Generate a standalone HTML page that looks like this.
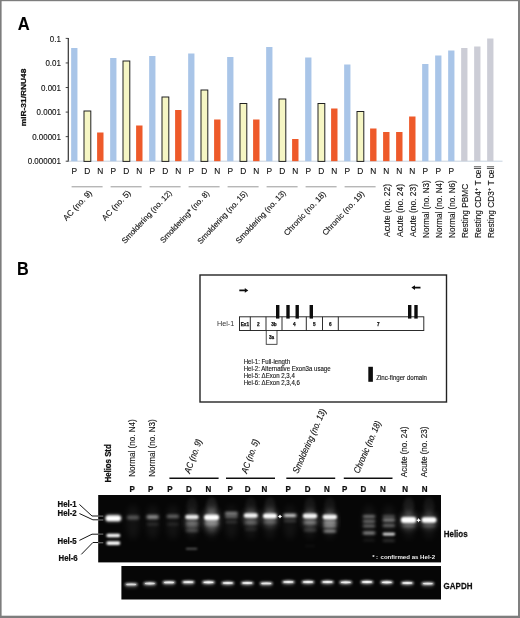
<!DOCTYPE html>
<html lang="en"><head><meta charset="utf-8"><title>Figure</title>
<style>
html,body{margin:0;padding:0;background:#fff;}
body{width:520px;height:618px;overflow:hidden;position:relative;}
svg{position:absolute;left:0;top:0;display:block;}
text{font-family:"Liberation Sans",sans-serif;fill:#111;stroke:#111;stroke-width:0.12px;}
.b{font-weight:bold;stroke:#111;stroke-width:0.25px;}
.i{font-style:italic;}
</style></head><body>
<svg width="520" height="618" viewBox="0 0 520 618">
<defs>
<filter id="bl0" x="-30%" y="-200%" width="160%" height="500%"><feGaussianBlur stdDeviation="0.5"/></filter>
<filter id="bl1" x="-30%" y="-200%" width="160%" height="500%"><feGaussianBlur stdDeviation="0.9"/></filter>
<filter id="bl2" x="-30%" y="-200%" width="160%" height="500%"><feGaussianBlur stdDeviation="1.6"/></filter>
<filter id="bl3" x="-30%" y="-100%" width="160%" height="300%"><feGaussianBlur stdDeviation="3"/></filter>
<filter id="soft" x="-5%" y="-5%" width="110%" height="110%"><feGaussianBlur stdDeviation="0.35"/></filter>
</defs>
<rect x="0" y="0" width="520" height="618" fill="#fff"/>
<g id="panelA" filter="url(#soft)">
<text class="b" transform="translate(17.7,30.1) scale(0.93,1)" font-size="17.8" style="fill:#000;stroke-width:0.1px">A</text>
<line x1="65.7" y1="38.40" x2="68.3" y2="38.40" stroke="#333" stroke-width="0.9"/>
<text transform="translate(60.9,41.60) scale(0.885,1)" font-size="9" text-anchor="end">0.1</text>
<line x1="65.7" y1="62.96" x2="68.3" y2="62.96" stroke="#333" stroke-width="0.9"/>
<text transform="translate(60.9,66.16) scale(0.885,1)" font-size="9" text-anchor="end">0.01</text>
<line x1="65.7" y1="87.52" x2="68.3" y2="87.52" stroke="#333" stroke-width="0.9"/>
<text transform="translate(60.9,90.72) scale(0.885,1)" font-size="9" text-anchor="end">0.001</text>
<line x1="65.7" y1="112.08" x2="68.3" y2="112.08" stroke="#333" stroke-width="0.9"/>
<text transform="translate(60.9,115.28) scale(0.885,1)" font-size="9" text-anchor="end">0.0001</text>
<line x1="65.7" y1="136.64" x2="68.3" y2="136.64" stroke="#333" stroke-width="0.9"/>
<text transform="translate(60.9,139.84) scale(0.885,1)" font-size="9" text-anchor="end">0.00001</text>
<line x1="65.7" y1="161.20" x2="68.3" y2="161.20" stroke="#333" stroke-width="0.9"/>
<text transform="translate(60.9,164.40) scale(0.885,1)" font-size="9" text-anchor="end">0.000001</text>
<line x1="68.3" y1="37.90" x2="68.3" y2="161.70" stroke="#333" stroke-width="1.2"/>
<line x1="68.3" y1="161.20" x2="502.5" y2="161.20" stroke="#b9c6d8" stroke-width="0.8"/>
<text class="b" transform="translate(25.9,126.3) rotate(-90) scale(1.035,1)" font-size="8.1">miR-31/RNU48</text>
<rect x="71.15" y="48.00" width="6.3" height="113.20" fill="#a9c5e8"/>
<text x="74.30" y="173.9" font-size="8.4" text-anchor="middle">P</text>
<rect x="84.00" y="111.00" width="6.8" height="50.40" fill="#f6f6c4" stroke="#222" stroke-width="1"/>
<text x="87.30" y="173.9" font-size="8.4" text-anchor="middle">D</text>
<rect x="97.10" y="132.50" width="6.4" height="28.70" fill="#ee5a2a"/>
<text x="100.30" y="173.9" font-size="8.4" text-anchor="middle">N</text>
<rect x="110.15" y="58.00" width="6.3" height="103.20" fill="#a9c5e8"/>
<text x="113.30" y="173.9" font-size="8.4" text-anchor="middle">P</text>
<rect x="123.00" y="61.00" width="6.8" height="100.40" fill="#f6f6c4" stroke="#222" stroke-width="1"/>
<text x="126.30" y="173.9" font-size="8.4" text-anchor="middle">D</text>
<rect x="136.10" y="125.50" width="6.4" height="35.70" fill="#ee5a2a"/>
<text x="139.30" y="173.9" font-size="8.4" text-anchor="middle">N</text>
<rect x="149.15" y="56.00" width="6.3" height="105.20" fill="#a9c5e8"/>
<text x="152.30" y="173.9" font-size="8.4" text-anchor="middle">P</text>
<rect x="162.00" y="97.00" width="6.8" height="64.40" fill="#f6f6c4" stroke="#222" stroke-width="1"/>
<text x="165.30" y="173.9" font-size="8.4" text-anchor="middle">D</text>
<rect x="175.10" y="110.00" width="6.4" height="51.20" fill="#ee5a2a"/>
<text x="178.30" y="173.9" font-size="8.4" text-anchor="middle">N</text>
<rect x="188.15" y="53.50" width="6.3" height="107.70" fill="#a9c5e8"/>
<text x="191.30" y="173.9" font-size="8.4" text-anchor="middle">P</text>
<rect x="201.00" y="90.00" width="6.8" height="71.40" fill="#f6f6c4" stroke="#222" stroke-width="1"/>
<text x="204.30" y="173.9" font-size="8.4" text-anchor="middle">D</text>
<rect x="214.10" y="119.50" width="6.4" height="41.70" fill="#ee5a2a"/>
<text x="217.30" y="173.9" font-size="8.4" text-anchor="middle">N</text>
<rect x="227.15" y="57.00" width="6.3" height="104.20" fill="#a9c5e8"/>
<text x="230.30" y="173.9" font-size="8.4" text-anchor="middle">P</text>
<rect x="240.00" y="103.50" width="6.8" height="57.90" fill="#f6f6c4" stroke="#222" stroke-width="1"/>
<text x="243.30" y="173.9" font-size="8.4" text-anchor="middle">D</text>
<rect x="253.10" y="119.50" width="6.4" height="41.70" fill="#ee5a2a"/>
<text x="256.30" y="173.9" font-size="8.4" text-anchor="middle">N</text>
<rect x="266.15" y="47.00" width="6.3" height="114.20" fill="#a9c5e8"/>
<text x="269.30" y="173.9" font-size="8.4" text-anchor="middle">P</text>
<rect x="279.00" y="99.00" width="6.8" height="62.40" fill="#f6f6c4" stroke="#222" stroke-width="1"/>
<text x="282.30" y="173.9" font-size="8.4" text-anchor="middle">D</text>
<rect x="292.10" y="139.00" width="6.4" height="22.20" fill="#ee5a2a"/>
<text x="295.30" y="173.9" font-size="8.4" text-anchor="middle">N</text>
<rect x="305.15" y="57.50" width="6.3" height="103.70" fill="#a9c5e8"/>
<text x="308.30" y="173.9" font-size="8.4" text-anchor="middle">P</text>
<rect x="318.00" y="103.50" width="6.8" height="57.90" fill="#f6f6c4" stroke="#222" stroke-width="1"/>
<text x="321.30" y="173.9" font-size="8.4" text-anchor="middle">D</text>
<rect x="331.10" y="108.50" width="6.4" height="52.70" fill="#ee5a2a"/>
<text x="334.30" y="173.9" font-size="8.4" text-anchor="middle">N</text>
<rect x="344.15" y="64.50" width="6.3" height="96.70" fill="#a9c5e8"/>
<text x="347.30" y="173.9" font-size="8.4" text-anchor="middle">P</text>
<rect x="357.00" y="111.50" width="6.8" height="49.90" fill="#f6f6c4" stroke="#222" stroke-width="1"/>
<text x="360.30" y="173.9" font-size="8.4" text-anchor="middle">D</text>
<rect x="370.10" y="128.50" width="6.4" height="32.70" fill="#ee5a2a"/>
<text x="373.30" y="173.9" font-size="8.4" text-anchor="middle">N</text>
<rect x="383.10" y="132.00" width="6.4" height="29.20" fill="#ee5a2a"/>
<text x="386.30" y="173.9" font-size="8.4" text-anchor="middle">N</text>
<rect x="396.10" y="132.00" width="6.4" height="29.20" fill="#ee5a2a"/>
<text x="399.30" y="173.9" font-size="8.4" text-anchor="middle">N</text>
<rect x="409.10" y="116.50" width="6.4" height="44.70" fill="#ee5a2a"/>
<text x="412.30" y="173.9" font-size="8.4" text-anchor="middle">N</text>
<rect x="422.15" y="64.00" width="6.3" height="97.20" fill="#a9c5e8"/>
<text x="425.30" y="173.9" font-size="8.4" text-anchor="middle">P</text>
<rect x="435.15" y="55.50" width="6.3" height="105.70" fill="#a9c5e8"/>
<text x="438.30" y="173.9" font-size="8.4" text-anchor="middle">P</text>
<rect x="448.15" y="50.50" width="6.3" height="110.70" fill="#a9c5e8"/>
<text x="451.30" y="173.9" font-size="8.4" text-anchor="middle">P</text>
<rect x="461.15" y="48.00" width="6.3" height="113.20" fill="#cccdd6"/>
<rect x="474.15" y="46.50" width="6.3" height="114.70" fill="#cccdd6"/>
<rect x="487.15" y="38.50" width="6.3" height="122.70" fill="#cccdd6"/>
<line x1="71.60" y1="186.8" x2="102.60" y2="186.8" stroke="#999" stroke-width="1"/>
<text transform="translate(92.50,193.40) rotate(-47)" font-size="8.35" text-anchor="end">AC (no. 9)</text>
<line x1="110.60" y1="186.8" x2="141.60" y2="186.8" stroke="#999" stroke-width="1"/>
<text transform="translate(131.20,193.40) rotate(-47)" font-size="8.35" text-anchor="end">AC (no. 5)</text>
<line x1="149.60" y1="186.8" x2="180.60" y2="186.8" stroke="#999" stroke-width="1"/>
<text transform="translate(172.20,193.30) rotate(-47)" font-size="7.9" text-anchor="end">Smoldering (no. 12)</text>
<line x1="188.60" y1="186.8" x2="219.60" y2="186.8" stroke="#999" stroke-width="1"/>
<text transform="translate(209.80,193.70) rotate(-47)" font-size="7.9" text-anchor="end">Smoldering* (no. 8)</text>
<line x1="227.60" y1="186.8" x2="258.60" y2="186.8" stroke="#999" stroke-width="1"/>
<text transform="translate(247.90,193.70) rotate(-47)" font-size="7.9" text-anchor="end">Smoldering (no. 15)</text>
<line x1="266.60" y1="186.8" x2="297.60" y2="186.8" stroke="#999" stroke-width="1"/>
<text transform="translate(286.20,193.20) rotate(-47)" font-size="7.9" text-anchor="end">Smoldering (no. 13)</text>
<line x1="305.60" y1="186.8" x2="336.60" y2="186.8" stroke="#999" stroke-width="1"/>
<text transform="translate(326.30,194.30) rotate(-47)" font-size="8.0" text-anchor="end">Chronic (no. 18)</text>
<line x1="344.60" y1="186.8" x2="375.60" y2="186.8" stroke="#999" stroke-width="1"/>
<text transform="translate(364.80,194.00) rotate(-47)" font-size="8.0" text-anchor="end">Chronic (no. 19)</text>
<text transform="translate(390.10,237) rotate(-90) scale(1,1)" font-size="8.45">Acute (no. 22)</text>
<text transform="translate(403.10,237) rotate(-90) scale(1,1)" font-size="8.45">Acute (no. 24)</text>
<text transform="translate(416.10,237) rotate(-90) scale(1,1)" font-size="8.45">Acute (no. 23)</text>
<text transform="translate(429.10,237.9) rotate(-90) scale(0.965,1)" font-size="8.4">Normal (no. N3)</text>
<text transform="translate(442.10,237.9) rotate(-90) scale(0.965,1)" font-size="8.4">Normal (no. N4)</text>
<text transform="translate(455.10,237.9) rotate(-90) scale(0.965,1)" font-size="8.4">Normal (no. N6)</text>
<text transform="translate(468.10,238.1) rotate(-90) scale(0.988,1)" font-size="8.4">Resting PBMC</text>
<text transform="translate(481.10,238.1) rotate(-90) scale(0.988,1)" font-size="8.4">Resting CD4<tspan dy="-3" font-size="6">+</tspan><tspan dy="3"> T cell</tspan></text>
<text transform="translate(494.10,238.1) rotate(-90) scale(0.988,1)" font-size="8.4">Resting CD3<tspan dy="-3" font-size="6">+</tspan><tspan dy="3"> T cell</tspan></text>
</g>
<g id="panelB" filter="url(#soft)">
<text class="b" transform="translate(17.1,274.5) scale(0.9,1)" font-size="18" style="fill:#000;stroke-width:0.1px">B</text>
<rect x="200" y="275" width="246.5" height="127" fill="none" stroke="#222" stroke-width="1.4"/>
<path d="M239.3 289.5 H244.8 V288.1 L248.3 290.4 L244.8 292.7 V291.3 H239.3 Z" fill="#111"/>
<path d="M420.5 286.7 H415 V285.3 L411.4 287.6 L415 289.9 V288.5 H420.5 Z" fill="#111"/>
<rect x="239.5" y="316.8" width="184.3" height="13.7" fill="#fff" stroke="#222" stroke-width="0.95"/>
<line x1="250.3" y1="316.8" x2="250.3" y2="330.5" stroke="#222" stroke-width="0.95"/>
<line x1="266" y1="316.8" x2="266" y2="330.5" stroke="#222" stroke-width="0.95"/>
<line x1="282" y1="316.8" x2="282" y2="330.5" stroke="#222" stroke-width="0.95"/>
<line x1="306.3" y1="316.8" x2="306.3" y2="330.5" stroke="#222" stroke-width="0.95"/>
<line x1="322.5" y1="316.8" x2="322.5" y2="330.5" stroke="#222" stroke-width="0.95"/>
<line x1="338.3" y1="316.8" x2="338.3" y2="330.5" stroke="#222" stroke-width="0.95"/>
<rect x="266.2" y="330.5" width="10.8" height="13.8" fill="#fff" stroke="#222" stroke-width="0.8"/>
<text class="b" x="244.9" y="325.6" font-size="4.6" text-anchor="middle">Ex1</text>
<text class="b" x="258.2" y="325.6" font-size="4.6" text-anchor="middle">2</text>
<text class="b" x="274" y="325.6" font-size="4.6" text-anchor="middle">3b</text>
<text class="b" x="294.2" y="325.6" font-size="4.6" text-anchor="middle">4</text>
<text class="b" x="314.4" y="325.6" font-size="4.6" text-anchor="middle">5</text>
<text class="b" x="330.2" y="325.6" font-size="4.6" text-anchor="middle">6</text>
<text class="b" x="378.3" y="325.6" font-size="4.6" text-anchor="middle">7</text>
<text class="b" x="271.6" y="339.3" font-size="4.6" text-anchor="middle">3a</text>
<rect x="276" y="305" width="3.4" height="13.6" fill="#111"/>
<rect x="286.3" y="305" width="3.4" height="13.6" fill="#111"/>
<rect x="295.5" y="305" width="3.4" height="13.6" fill="#111"/>
<rect x="309.6" y="305" width="3.4" height="13.6" fill="#111"/>
<rect x="408" y="305" width="3.4" height="13.6" fill="#111"/>
<rect x="414.3" y="305" width="3.4" height="13.6" fill="#111"/>
<text transform="translate(217,326.4) scale(0.93,1)" font-size="7.8" style="fill:#333;stroke:none">Hel-1</text>
<text transform="translate(243.7,363.70) scale(0.91,1)" font-size="6.7">Hel-1: Full-length</text>
<text transform="translate(243.7,370.88) scale(0.91,1)" font-size="6.7">Hel-2: Alternative Exon3a usage</text>
<text transform="translate(243.7,378.06) scale(0.91,1)" font-size="6.7">Hel-5: ΔExon 2,3,4</text>
<text transform="translate(243.7,385.24) scale(0.91,1)" font-size="6.7">Hel-6: ΔExon 2,3,4,6</text>
<rect x="368.3" y="366.8" width="4.6" height="15" fill="#111"/>
<text transform="translate(376.2,379.7) scale(0.91,1)" font-size="6.75">Zinc-finger domain</text>
<text class="b" transform="translate(111.2,482.5) rotate(-90) scale(0.87,1)" font-size="9.0">Helios Std</text>
<text transform="translate(135,476.8) rotate(-90) scale(0.88,1)" font-size="9.2">Normal (no. N4)</text>
<text transform="translate(154.8,476.8) rotate(-90) scale(0.88,1)" font-size="9.2">Normal (no. N3)</text>
<text class="b" transform="translate(132.2,491.6) scale(0.9,1)" font-size="8.9" text-anchor="middle" fill="#000">P</text>
<text class="b" transform="translate(150.6,491.6) scale(0.9,1)" font-size="8.9" text-anchor="middle" fill="#000">P</text>
<text class="b" transform="translate(170,491.6) scale(0.9,1)" font-size="8.9" text-anchor="middle" fill="#000">P</text>
<text class="b" transform="translate(189,491.6) scale(0.9,1)" font-size="8.9" text-anchor="middle" fill="#000">D</text>
<text class="b" transform="translate(208.5,491.6) scale(0.9,1)" font-size="8.9" text-anchor="middle" fill="#000">N</text>
<text class="b" transform="translate(230.2,491.6) scale(0.9,1)" font-size="8.9" text-anchor="middle" fill="#000">P</text>
<text class="b" transform="translate(247.7,491.6) scale(0.9,1)" font-size="8.9" text-anchor="middle" fill="#000">D</text>
<text class="b" transform="translate(264.3,491.6) scale(0.9,1)" font-size="8.9" text-anchor="middle" fill="#000">N</text>
<text class="b" transform="translate(288.2,491.6) scale(0.9,1)" font-size="8.9" text-anchor="middle" fill="#000">P</text>
<text class="b" transform="translate(307.6,491.6) scale(0.9,1)" font-size="8.9" text-anchor="middle" fill="#000">D</text>
<text class="b" transform="translate(327,491.6) scale(0.9,1)" font-size="8.9" text-anchor="middle" fill="#000">N</text>
<text class="b" transform="translate(344.6,491.6) scale(0.9,1)" font-size="8.9" text-anchor="middle" fill="#000">P</text>
<text class="b" transform="translate(363.5,491.6) scale(0.9,1)" font-size="8.9" text-anchor="middle" fill="#000">D</text>
<text class="b" transform="translate(383,491.6) scale(0.9,1)" font-size="8.9" text-anchor="middle" fill="#000">N</text>
<text class="b" transform="translate(405.2,491.6) scale(0.9,1)" font-size="8.9" text-anchor="middle" fill="#000">N</text>
<text class="b" transform="translate(424.6,491.6) scale(0.9,1)" font-size="8.9" text-anchor="middle" fill="#000">N</text>
<line x1="169.4" y1="478.3" x2="218.6" y2="478.3" stroke="#111" stroke-width="1.5"/>
<line x1="226" y1="478.3" x2="275" y2="478.3" stroke="#111" stroke-width="1.5"/>
<line x1="286.3" y1="478.3" x2="335.2" y2="478.3" stroke="#111" stroke-width="1.5"/>
<line x1="343.8" y1="478.3" x2="392.5" y2="478.3" stroke="#111" stroke-width="1.5"/>
<text class="i" transform="translate(190,474) rotate(-70) scale(0.84,1)" font-size="9.3">AC (no. 9)</text>
<text class="i" transform="translate(247,474) rotate(-70) scale(0.84,1)" font-size="9.3">AC (no. 5)</text>
<text class="i" transform="translate(298.0,474) rotate(-66) scale(0.85,1)" font-size="9.3">Smoldering (no. 13)</text>
<text class="i" transform="translate(359.0,474) rotate(-66.5) scale(0.84,1)" font-size="9.3">Chronic (no. 18)</text>
<text transform="translate(407,477.2) rotate(-90) scale(0.86,1)" font-size="9.4">Acute (no. 24)</text>
<text transform="translate(426.5,477.2) rotate(-90) scale(0.86,1)" font-size="9.4">Acute (no. 23)</text>
<text class="b" transform="translate(57.5,506.5) scale(0.85,1)" font-size="9.2">Hel-1</text>
<text class="b" transform="translate(57.5,516.2) scale(0.85,1)" font-size="9.2">Hel-2</text>
<text class="b" transform="translate(57.5,544) scale(0.85,1)" font-size="9.2">Hel-5</text>
<text class="b" transform="translate(58.5,560.9) scale(0.85,1)" font-size="9.2">Hel-6</text>
<text class="b" transform="translate(443.7,536.8) scale(0.86,1)" font-size="9.3" fill="#000">Helios</text>
<text class="b" transform="translate(443.6,588.5) scale(0.86,1)" font-size="9.3" fill="#000">GAPDH</text>
</g>
<g id="gels">
<rect x="98.2" y="495" width="342.8" height="67.4" fill="#060606"/>
<rect x="121.4" y="566" width="319.6" height="33.5" fill="#060606"/>
</g>
<g fill="none" stroke="#151515" stroke-width="1">
<path d="M79.4 504.4 L92 516 H98.2"/>
<path d="M79.4 513.5 L92.9 519.8 H98.2"/>
<path d="M79.4 540.4 L92 534.2 H98.2"/>
<path d="M81.3 554.4 L92.9 542.5 H98.2"/>
</g>
<g fill="none" stroke="#999" stroke-width="0.8">
<path d="M98.2 516.1 H103.3"/>
<path d="M98.2 520 H103.3"/>
<path d="M98.2 534.1 H103.3"/>
<path d="M98.2 542.8 H103.3"/>
</g>
<g id="bands">
<rect x="126.5" y="505.00" width="13" height="34" rx="17.0" fill="#fff" opacity="0.05" filter="url(#bl3)"/>
<rect x="146.2" y="505.00" width="13" height="34" rx="17.0" fill="#fff" opacity="0.05" filter="url(#bl3)"/>
<rect x="166.3" y="505.00" width="13" height="34" rx="17.0" fill="#fff" opacity="0.05" filter="url(#bl3)"/>
<rect x="185.5" y="505.00" width="13" height="34" rx="17.0" fill="#fff" opacity="0.05" filter="url(#bl3)"/>
<rect x="205.1" y="505.00" width="13" height="34" rx="17.0" fill="#fff" opacity="0.05" filter="url(#bl3)"/>
<rect x="224.9" y="505.00" width="13" height="34" rx="17.0" fill="#fff" opacity="0.05" filter="url(#bl3)"/>
<rect x="244.3" y="505.00" width="13" height="34" rx="17.0" fill="#fff" opacity="0.05" filter="url(#bl3)"/>
<rect x="263.5" y="505.00" width="13" height="34" rx="17.0" fill="#fff" opacity="0.05" filter="url(#bl3)"/>
<rect x="283.5" y="505.00" width="13" height="34" rx="17.0" fill="#fff" opacity="0.05" filter="url(#bl3)"/>
<rect x="303.5" y="505.00" width="13" height="34" rx="17.0" fill="#fff" opacity="0.05" filter="url(#bl3)"/>
<rect x="323.3" y="505.00" width="13" height="34" rx="17.0" fill="#fff" opacity="0.05" filter="url(#bl3)"/>
<rect x="362.5" y="505.00" width="13" height="34" rx="17.0" fill="#fff" opacity="0.05" filter="url(#bl3)"/>
<rect x="382.3" y="505.00" width="13" height="34" rx="17.0" fill="#fff" opacity="0.05" filter="url(#bl3)"/>
<rect x="402.2" y="505.00" width="13" height="34" rx="17.0" fill="#fff" opacity="0.05" filter="url(#bl3)"/>
<rect x="422.5" y="505.00" width="13" height="34" rx="17.0" fill="#fff" opacity="0.05" filter="url(#bl3)"/>
<rect x="186.5" y="497.00" width="11" height="18" rx="9.0" fill="#fff" opacity="0.05" filter="url(#bl2)"/>
<rect x="206.1" y="497.00" width="11" height="18" rx="9.0" fill="#fff" opacity="0.09" filter="url(#bl2)"/>
<rect x="245.3" y="497.00" width="11" height="18" rx="9.0" fill="#fff" opacity="0.05" filter="url(#bl2)"/>
<rect x="264.5" y="497.00" width="11" height="18" rx="9.0" fill="#fff" opacity="0.07" filter="url(#bl2)"/>
<rect x="304.5" y="497.00" width="11" height="18" rx="9.0" fill="#fff" opacity="0.06" filter="url(#bl2)"/>
<rect x="324.3" y="497.00" width="11" height="18" rx="9.0" fill="#fff" opacity="0.05" filter="url(#bl2)"/>
<rect x="403.2" y="497.00" width="11" height="18" rx="9.0" fill="#fff" opacity="0.07" filter="url(#bl2)"/>
<rect x="423.5" y="497.00" width="11" height="18" rx="9.0" fill="#fff" opacity="0.05" filter="url(#bl2)"/>
<rect x="105.8" y="515.40" width="15" height="5.6" rx="2.8" fill="#fff" opacity="1" filter="url(#bl1)"/>
<rect x="106.3" y="533.70" width="14" height="3.6" rx="1.8" fill="#fff" opacity="1" filter="url(#bl1)"/>
<rect x="106.3" y="541.20" width="14" height="3.8" rx="1.9" fill="#fff" opacity="1" filter="url(#bl1)"/>
<rect x="104.8" y="514.20" width="17" height="8" rx="4.0" fill="#fff" opacity="0.35" filter="url(#bl2)"/>
<rect x="126.8" y="515.40" width="12.5" height="4" rx="2.0" fill="#fff" opacity="0.3" filter="url(#bl2)"/>
<rect x="146.4" y="515.00" width="12.5" height="4" rx="2.0" fill="#fff" opacity="0.52" filter="url(#bl2)"/>
<rect x="146.7" y="523.30" width="12" height="2" rx="1.0" fill="#fff" opacity="0.16" filter="url(#bl2)"/>
<rect x="166.6" y="514.70" width="12.5" height="3.4" rx="1.7" fill="#fff" opacity="0.38" filter="url(#bl2)"/>
<rect x="166.8" y="523.30" width="12" height="2" rx="1.0" fill="#fff" opacity="0.13" filter="url(#bl2)"/>
<rect x="185.5" y="513.00" width="13" height="18" rx="9.0" fill="#fff" opacity="0.22" filter="url(#bl3)"/>
<rect x="185.2" y="514.70" width="13.5" height="4.6" rx="2.3" fill="#fff" opacity="0.9" filter="url(#bl1)"/>
<rect x="185.8" y="521.90" width="12.5" height="1.8" rx="0.9" fill="#fff" opacity="0.4" filter="url(#bl2)"/>
<rect x="185.8" y="524.80" width="12.5" height="1.8" rx="0.9" fill="#fff" opacity="0.3" filter="url(#bl2)"/>
<rect x="185.8" y="529.30" width="12.5" height="2.4" rx="1.2" fill="#fff" opacity="0.25" filter="url(#bl2)"/>
<rect x="185.8" y="548.00" width="11.5" height="1.6" rx="0.8" fill="#fff" opacity="0.4" filter="url(#bl1)"/>
<rect x="204.1" y="508.00" width="15" height="24" rx="12.0" fill="#fff" opacity="0.3" filter="url(#bl3)"/>
<rect x="204.1" y="514.40" width="15" height="5.8" rx="2.9" fill="#fff" opacity="1" filter="url(#bl1)"/>
<rect x="204.6" y="520.00" width="14" height="6" rx="3.0" fill="#fff" opacity="0.3" filter="url(#bl2)"/>
<rect x="224.9" y="512.10" width="13" height="2.6" rx="1.3" fill="#fff" opacity="0.55" filter="url(#bl2)"/>
<rect x="224.9" y="515.60" width="13" height="2.4" rx="1.2" fill="#fff" opacity="0.4" filter="url(#bl2)"/>
<rect x="225.4" y="521.10" width="12" height="1.6" rx="0.8" fill="#fff" opacity="0.22" filter="url(#bl2)"/>
<rect x="243.8" y="510.00" width="14" height="16" rx="8.0" fill="#fff" opacity="0.28" filter="url(#bl3)"/>
<rect x="243.8" y="513.20" width="14" height="4.6" rx="2.3" fill="#fff" opacity="0.95" filter="url(#bl1)"/>
<rect x="244.3" y="521.80" width="13" height="2" rx="1.0" fill="#fff" opacity="0.3" filter="url(#bl2)"/>
<rect x="244.8" y="528.60" width="12" height="2" rx="1.0" fill="#fff" opacity="0.12" filter="url(#bl2)"/>
<rect x="263.0" y="509.00" width="14" height="18" rx="9.0" fill="#fff" opacity="0.28" filter="url(#bl3)"/>
<rect x="263.0" y="513.50" width="14" height="5" rx="2.5" fill="#fff" opacity="1" filter="url(#bl1)"/>
<rect x="263.5" y="520.50" width="13" height="3" rx="1.5" fill="#fff" opacity="0.2" filter="url(#bl2)"/>
<path d="M280 514.4 L280.7 515.8 L282.2 516.5 L280.7 517.2 L280 518.6 L279.3 517.2 L277.8 516.5 L279.3 515.8 Z" fill="#fff" filter="url(#bl0)"/>
<circle cx="280" cy="516.5" r="0.9" fill="#fff"/>
<rect x="283.5" y="514.10" width="13" height="3" rx="1.5" fill="#fff" opacity="0.9" filter="url(#bl2)"/>
<rect x="283.8" y="519.80" width="12.5" height="2" rx="1.0" fill="#fff" opacity="0.25" filter="url(#bl2)"/>
<rect x="303.0" y="511.00" width="14" height="18" rx="9.0" fill="#fff" opacity="0.25" filter="url(#bl3)"/>
<rect x="302.8" y="513.60" width="14.5" height="4.8" rx="2.4" fill="#fff" opacity="0.95" filter="url(#bl1)"/>
<rect x="303.5" y="521.00" width="13" height="3" rx="1.5" fill="#fff" opacity="0.35" filter="url(#bl2)"/>
<rect x="303.8" y="529.30" width="12.5" height="2" rx="1.0" fill="#fff" opacity="0.22" filter="url(#bl2)"/>
<rect x="305.0" y="545.20" width="10" height="1.6" rx="0.8" fill="#fff" opacity="0.06" filter="url(#bl2)"/>
<rect x="322.8" y="511.00" width="14" height="20" rx="10.0" fill="#fff" opacity="0.25" filter="url(#bl3)"/>
<rect x="322.6" y="514.60" width="14.5" height="4.8" rx="2.4" fill="#fff" opacity="0.95" filter="url(#bl1)"/>
<rect x="323.3" y="521.60" width="13" height="2" rx="1.0" fill="#fff" opacity="0.65" filter="url(#bl2)"/>
<rect x="323.3" y="525.00" width="13" height="2" rx="1.0" fill="#fff" opacity="0.55" filter="url(#bl2)"/>
<rect x="323.6" y="530.10" width="12.5" height="2.2" rx="1.1" fill="#fff" opacity="0.6" filter="url(#bl2)"/>
<rect x="362.8" y="515.40" width="12.5" height="2.2" rx="1.1" fill="#fff" opacity="0.62" filter="url(#bl2)"/>
<rect x="362.8" y="520.20" width="12.5" height="2.2" rx="1.1" fill="#fff" opacity="0.52" filter="url(#bl2)"/>
<rect x="362.8" y="524.90" width="12.5" height="2.2" rx="1.1" fill="#fff" opacity="0.5" filter="url(#bl2)"/>
<rect x="362.8" y="531.80" width="12.5" height="2.4" rx="1.2" fill="#fff" opacity="0.62" filter="url(#bl2)"/>
<rect x="363.0" y="539.50" width="12" height="1.8" rx="0.9" fill="#fff" opacity="0.1" filter="url(#bl2)"/>
<rect x="382.6" y="515.40" width="12.5" height="2.2" rx="1.1" fill="#fff" opacity="0.4" filter="url(#bl2)"/>
<rect x="382.6" y="519.10" width="12.5" height="2.2" rx="1.1" fill="#fff" opacity="0.65" filter="url(#bl2)"/>
<rect x="382.6" y="524.40" width="12.5" height="2.2" rx="1.1" fill="#fff" opacity="0.55" filter="url(#bl2)"/>
<rect x="382.6" y="532.70" width="12.5" height="2.8" rx="1.4" fill="#fff" opacity="0.85" filter="url(#bl1)"/>
<rect x="382.8" y="539.80" width="12" height="1.8" rx="0.9" fill="#fff" opacity="0.25" filter="url(#bl2)"/>
<rect x="400.7" y="513.00" width="16" height="16" rx="8.0" fill="#fff" opacity="0.3" filter="url(#bl3)"/>
<rect x="400.9" y="517.00" width="15.5" height="6" rx="3.0" fill="#fff" opacity="1" filter="url(#bl1)"/>
<rect x="402.2" y="525.00" width="13" height="2" rx="1.0" fill="#fff" opacity="0.25" filter="url(#bl2)"/>
<path d="M418.6 518.1 L419.3 519.6 L420.8 520.3 L419.3 521 L418.6 522.5 L417.9 521 L416.4 520.3 L417.9 519.6 Z" fill="#fff" filter="url(#bl0)"/>
<circle cx="418.6" cy="520.3" r="0.9" fill="#fff"/>
<rect x="421.5" y="514.00" width="15" height="14" rx="7.0" fill="#fff" opacity="0.28" filter="url(#bl3)"/>
<rect x="421.5" y="517.20" width="15" height="5.6" rx="2.8" fill="#fff" opacity="1" filter="url(#bl1)"/>
<rect x="422.5" y="525.00" width="13" height="2" rx="1.0" fill="#fff" opacity="0.2" filter="url(#bl2)"/>
<ellipse cx="131.2" cy="584.4" rx="6.6" ry="1.45" fill="#fff" opacity="0.75" filter="url(#bl1)"/>
<ellipse cx="131.2" cy="584.4" rx="5" ry="0.9" fill="#fff" opacity="0.60" filter="url(#bl0)"/>
<rect x="124.7" y="582.20" width="13" height="6" rx="3.0" fill="#fff" opacity="0.16" filter="url(#bl2)"/>
<ellipse cx="149.8" cy="583.5" rx="6.6" ry="1.45" fill="#fff" opacity="0.8" filter="url(#bl1)"/>
<ellipse cx="149.8" cy="583.5" rx="5" ry="0.9" fill="#fff" opacity="0.64" filter="url(#bl0)"/>
<rect x="143.3" y="581.30" width="13" height="6" rx="3.0" fill="#fff" opacity="0.16" filter="url(#bl2)"/>
<ellipse cx="169" cy="582.4" rx="6.6" ry="1.45" fill="#fff" opacity="0.9" filter="url(#bl1)"/>
<ellipse cx="169" cy="582.4" rx="5" ry="0.9" fill="#fff" opacity="0.72" filter="url(#bl0)"/>
<rect x="162.5" y="580.20" width="13" height="6" rx="3.0" fill="#fff" opacity="0.16" filter="url(#bl2)"/>
<ellipse cx="188.3" cy="582.1" rx="6.6" ry="1.45" fill="#fff" opacity="0.95" filter="url(#bl1)"/>
<ellipse cx="188.3" cy="582.1" rx="5" ry="0.9" fill="#fff" opacity="0.76" filter="url(#bl0)"/>
<rect x="181.8" y="579.90" width="13" height="6" rx="3.0" fill="#fff" opacity="0.16" filter="url(#bl2)"/>
<ellipse cx="208.5" cy="582.3" rx="6.6" ry="1.45" fill="#fff" opacity="1" filter="url(#bl1)"/>
<ellipse cx="208.5" cy="582.3" rx="5" ry="0.9" fill="#fff" opacity="0.80" filter="url(#bl0)"/>
<rect x="202.0" y="580.10" width="13" height="6" rx="3.0" fill="#fff" opacity="0.16" filter="url(#bl2)"/>
<ellipse cx="227.8" cy="583" rx="6.6" ry="1.45" fill="#fff" opacity="0.9" filter="url(#bl1)"/>
<ellipse cx="227.8" cy="583" rx="5" ry="0.9" fill="#fff" opacity="0.72" filter="url(#bl0)"/>
<rect x="221.3" y="580.80" width="13" height="6" rx="3.0" fill="#fff" opacity="0.16" filter="url(#bl2)"/>
<ellipse cx="247.3" cy="583" rx="6.6" ry="1.45" fill="#fff" opacity="0.9" filter="url(#bl1)"/>
<ellipse cx="247.3" cy="583" rx="5" ry="0.9" fill="#fff" opacity="0.72" filter="url(#bl0)"/>
<rect x="240.8" y="580.80" width="13" height="6" rx="3.0" fill="#fff" opacity="0.16" filter="url(#bl2)"/>
<ellipse cx="266.3" cy="583.4" rx="6.6" ry="1.45" fill="#fff" opacity="0.85" filter="url(#bl1)"/>
<ellipse cx="266.3" cy="583.4" rx="5" ry="0.9" fill="#fff" opacity="0.68" filter="url(#bl0)"/>
<rect x="259.8" y="581.20" width="13" height="6" rx="3.0" fill="#fff" opacity="0.16" filter="url(#bl2)"/>
<ellipse cx="288.4" cy="582" rx="6.6" ry="1.45" fill="#fff" opacity="0.9" filter="url(#bl1)"/>
<ellipse cx="288.4" cy="582" rx="5" ry="0.9" fill="#fff" opacity="0.72" filter="url(#bl0)"/>
<rect x="281.9" y="579.80" width="13" height="6" rx="3.0" fill="#fff" opacity="0.16" filter="url(#bl2)"/>
<ellipse cx="308" cy="582" rx="6.6" ry="1.45" fill="#fff" opacity="0.95" filter="url(#bl1)"/>
<ellipse cx="308" cy="582" rx="5" ry="0.9" fill="#fff" opacity="0.76" filter="url(#bl0)"/>
<rect x="301.5" y="579.80" width="13" height="6" rx="3.0" fill="#fff" opacity="0.16" filter="url(#bl2)"/>
<ellipse cx="327.5" cy="582" rx="6.6" ry="1.45" fill="#fff" opacity="0.92" filter="url(#bl1)"/>
<ellipse cx="327.5" cy="582" rx="5" ry="0.9" fill="#fff" opacity="0.74" filter="url(#bl0)"/>
<rect x="321.0" y="579.80" width="13" height="6" rx="3.0" fill="#fff" opacity="0.16" filter="url(#bl2)"/>
<ellipse cx="345.8" cy="582.3" rx="6.6" ry="1.45" fill="#fff" opacity="0.92" filter="url(#bl1)"/>
<ellipse cx="345.8" cy="582.3" rx="5" ry="0.9" fill="#fff" opacity="0.74" filter="url(#bl0)"/>
<rect x="339.3" y="580.10" width="13" height="6" rx="3.0" fill="#fff" opacity="0.16" filter="url(#bl2)"/>
<ellipse cx="367" cy="582" rx="6.6" ry="1.45" fill="#fff" opacity="0.97" filter="url(#bl1)"/>
<ellipse cx="367" cy="582" rx="5" ry="0.9" fill="#fff" opacity="0.78" filter="url(#bl0)"/>
<rect x="360.5" y="579.80" width="13" height="6" rx="3.0" fill="#fff" opacity="0.16" filter="url(#bl2)"/>
<ellipse cx="386.8" cy="582.3" rx="6.6" ry="1.45" fill="#fff" opacity="0.97" filter="url(#bl1)"/>
<ellipse cx="386.8" cy="582.3" rx="5" ry="0.9" fill="#fff" opacity="0.78" filter="url(#bl0)"/>
<rect x="380.3" y="580.10" width="13" height="6" rx="3.0" fill="#fff" opacity="0.16" filter="url(#bl2)"/>
<ellipse cx="407.3" cy="583" rx="6.6" ry="1.45" fill="#fff" opacity="0.9" filter="url(#bl1)"/>
<ellipse cx="407.3" cy="583" rx="5" ry="0.9" fill="#fff" opacity="0.72" filter="url(#bl0)"/>
<rect x="400.8" y="580.80" width="13" height="6" rx="3.0" fill="#fff" opacity="0.16" filter="url(#bl2)"/>
<ellipse cx="427.8" cy="583.6" rx="6.6" ry="1.45" fill="#fff" opacity="0.85" filter="url(#bl1)"/>
<ellipse cx="427.8" cy="583.6" rx="5" ry="0.9" fill="#fff" opacity="0.68" filter="url(#bl0)"/>
<rect x="421.3" y="581.40" width="13" height="6" rx="3.0" fill="#fff" opacity="0.16" filter="url(#bl2)"/>
</g>
<text class="b" y="558.9" font-size="6.1" style="fill:#eee;stroke:none" filter="url(#soft)"><tspan x="372.2">*</tspan><tspan x="376">:</tspan><tspan x="380.5">confirmed as Hel-2</tspan></text>
<rect x="0" y="0" width="520" height="1.2" fill="#7d7d7d"/>
<rect x="0" y="0" width="1.6" height="618" fill="#7d7d7d"/>
<rect x="518" y="0" width="2" height="618" fill="#808080"/>
<rect x="0" y="615.7" width="520" height="2.3" fill="#7d7d7d"/>
</svg></body></html>
